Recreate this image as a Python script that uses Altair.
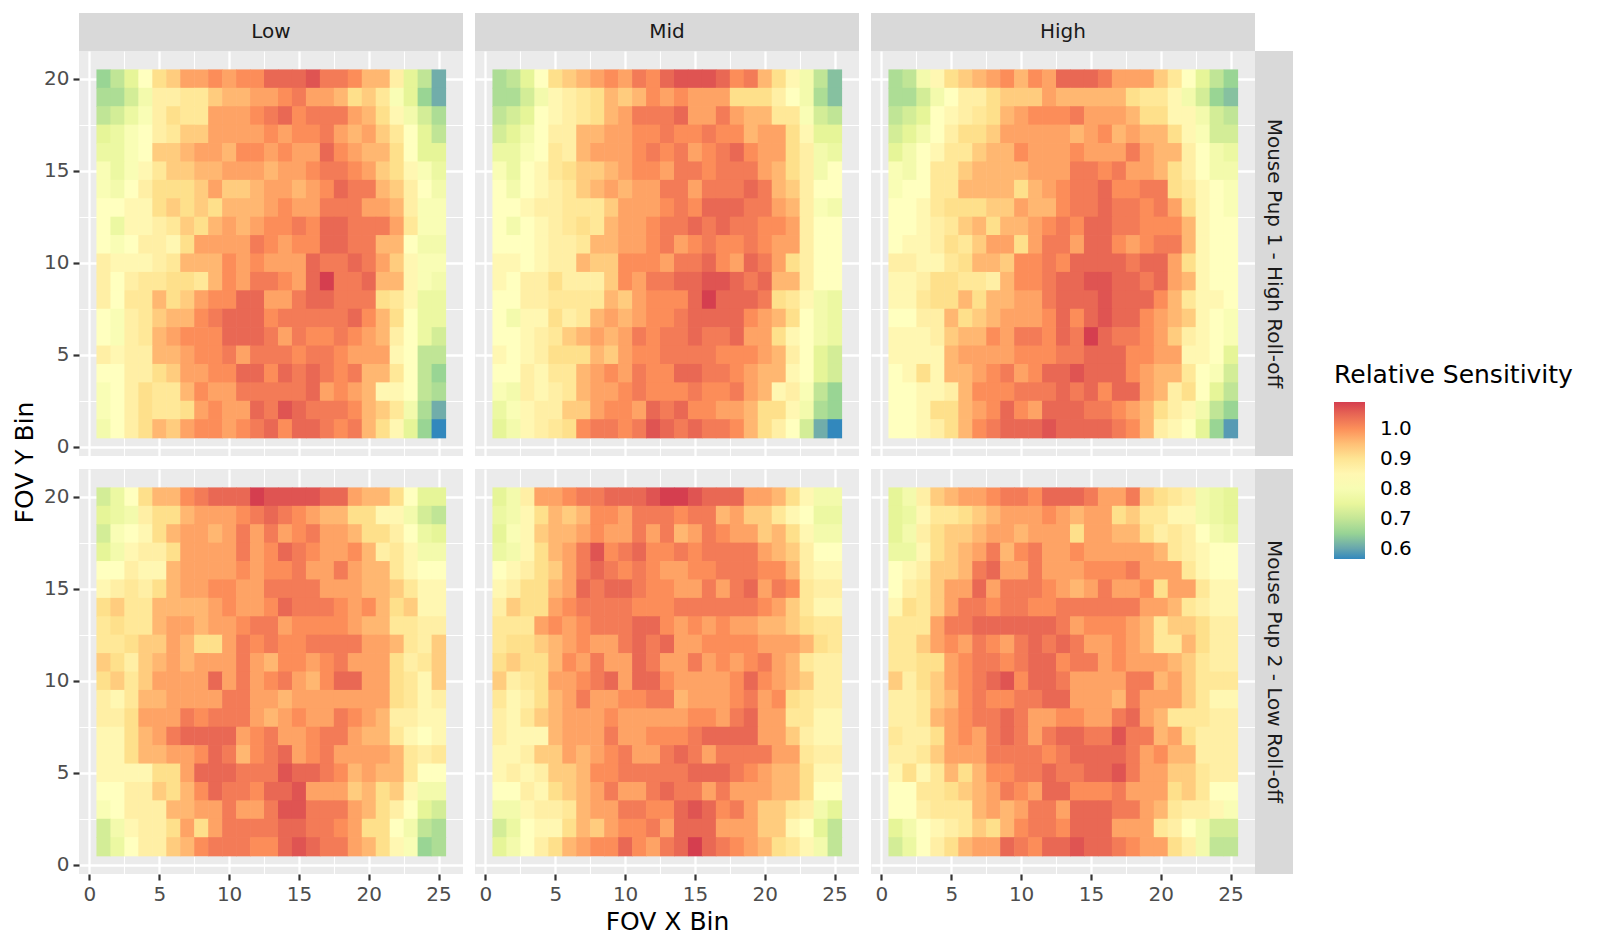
import altair as alt
import pandas as pd

# ---------------------------------------------------------------------------
# Data.  One character per bin:
#   'a'..'y'  ->  0.565 .. 1.090  (step 0.021875)
# Each list holds 20 rows, from FOV Y Bin 20 (top) down to 1 (bottom);
# each row holds FOV X Bin 1..25.
# ---------------------------------------------------------------------------
LEVEL_CHARS = "abcdefghijklmnopqrstuvwxy"
LEVEL_MIN = 0.565
LEVEL_STEP = 0.021875

setting_names = ["Low", "Mid", "High"]
pup_names = ["Mouse Pup 1 - High Roll-off", "Mouse Pup 2 - Low Roll-off"]

pup1_low = [
    "egimqrttut" "uuwwwxvvus" "soigc",
    "ffhkoopprs" "sttuvttsqr" "pliec",
    "ghjloqpptt" "tuvwuvvvts" "qnkhf",
    "ijlmoprrtt" "ttutuuvtst" "rpmig",
    "jjlmrrstts" "uututtwuts" "sqmii",
    "ljlnprrsst" "ttsttuvvut" "rqnlj",
    "lkmoqqqrtr" "rsttstuwvv" "sromk",
    "mmnnqrqrqs" "sstuttvvvt" "tsoll",
    "mjnnoprqst" "stuuvuwwvv" "vtpll",
    "mlmoonqttt" "tvutuuwwvv" "ssmkk",
    "onnnopsssu" "tutttwvvwv" "trnll",
    "omoppqqpsu" "tvvutwyvvw" "ssnlk",
    "omppsqrtuu" "wwttvwwvvv" "qpnjj",
    "mloprssuvw" "wwuvvvvvwu" "sqmjj",
    "mlopstuuuw" "wwvtvuuvut" "somjh",
    "onoosstuuv" "tvvvuvvutt" "tnmgg",
    "mmooqrttuu" "wwuwvwvuvs" "spmge",
    "lmoqppsutt" "vvvvvwtuts" "nnmgf",
    "lmoqppqtut" "twvxwvvvus" "rpkfc",
    "kmoqsrtuut" "uvwuwwvuvs" "qniea",
]

pup1_mid = [
    "fgimqrstut" "vuwxxxwuvs" "qnkgd",
    "ffhknopqsr" "sututttqqq" "omkfd",
    "ghimnopqst" "vvvwttvtss" "pplhg",
    "hikmoosstt" "uuvuuvuust" "tqnii",
    "jjlmpostt" "tuvuvtuvwut" "tqokj",
    "ljmnpqrrst" "uutvvuvvvt" "sqokm",
    "mkmnoprsts" "ttvvtvvvwv" "sromm",
    "mmnooppprt" "ttuvuwwwvv" "tsolk",
    "mkmnopqpst" "tuvvwvwvvu" "utomm",
    "mmmnoopsst" "tuvtuvuuvu" "ttomm",
    "nnmnoosrru" "uutvvwutwv" "tqomm",
    "nmooqoooru" "tvvwwxxwvw" "ssomm",
    "mmooppppsr" "tuuuwywwwv" "qpnkj",
    "mknnqopsts" "tuuvwwwwut" "sqmkj",
    "mmnoprstst" "vuvvwvvwtt" "qnmkj",
    "nmnoqqqsrt" "uuvvvvuuut" "somih",
    "mmonppstut" "vuuwwvvuts" "snmih",
    "lkonopsttu" "vuuuvuuvts" "nolge",
    "jlnoorrtuu" "twvwuuttsq" "qnkfe",
    "iknopquvvu" "vxwvwvvusq" "omhca",
]

pup1_high = [
    "fgknqrstus" "utwwwvtttr" "pmige",
    "ffhkmooqrr" "rtsssssqpp" "nkhed",
    "ghimnopqst" "uuuvtttsqq" "nnkhg",
    "hikmoqqrtt" "tttstustss" "qnlhh",
    "ikmnpprssu" "tttutttvts" "somkj",
    "lkmpprssss" "tttvvuvtts" "qomkk",
    "lmmppssssq" "stuvvwuuvv" "qpnml",
    "mmnpqqqrrt" "ssuvvwvvuv" "tqnml",
    "mmnoprsqss" "tuvuwwvvuu" "usnmm",
    "mnnoqprttq" "tvvtwwutuv" "vsnmm",
    "oonnpqssru" "uvuwwwwvww" "tqnmm",
    "nnoqqpposu" "uvwwxxwwvw" "tsnmm",
    "nnpqqsqsst" "tvwwwxwwwu" "spnnm",
    "mmoosqrstt" "tuwuwxwwut" "srnml",
    "nnnorssutv" "vuwvywvvut" "ronml",
    "nnnnsttttu" "uuvvwwwuut" "tnnmi",
    "mnqnsstuvt" "uwwxwwwuts" "spmlh",
    "mmnnosuuuv" "vvwvwuwwts" "oqmig",
    "mmnqqstuwu" "twwwvvutsq" "onkge",
    "mmnoqsuvww" "wxwwwwvuso" "nmieb",
]

pup2_low = [
    "hjmqssuvww" "wyxxxxwwts" "sqmii",
    "ijkoqqsttt" "uvwvutssqq" "nnkhg",
    "hlmnqsttst" "vtvtuvttsq" "qomji",
    "iknooqtttt" "vtuwvuttus" "opnkk",
    "mmonnstttt" "utuuvttvts" "spnmm",
    "nopoqsttuu" "ttvvvvttts" "srpnn",
    "qrppsssstu" "ttuwvvvutu" "sqrnn",
    "pqppsttstt" "uvvtuuuuts" "sppoo",
    "ppqrrtsqqt" "vuvuuvvvvt" "tspor",
    "rqorststtt" "vtsuutuvtt" "tqopr",
    "qrprttttwt" "vtuvtsuwwt" "tqpnr",
    "onpssttttv" "vttstttttt" "tqpno",
    "ooqtttvuvv" "vtstuttvut" "soonn",
    "nnqstvwwww" "tuvttuvvts" "spnmn",
    "nnqssttuwv" "suvwtuvttt" "tspop",
    "nnnnqqtwww" "vvvxwwvust" "sspmm",
    "mmoorqsuwv" "vuwwxtttrs" "qrnkk",
    "lmooossttv" "ttvxxvvvts" "qomih",
    "hknooqtqtv" "vvvwwvvutq" "qmkgf",
    "hjmoorsuvv" "vuuwxwvvts" "qnlef",
]

pup2_mid = [
    "ikottuvvww" "wxyyxwwwtt" "sqnkk",
    "jknqsrsuut" "vvvuvvstrr" "pnmjj",
    "ilnrsstutt" "vtvstvuttr" "sqnkk",
    "jknqstvxuv" "wuuvuvvvvt" "sromm",
    "mnoqrtvwvu" "vuttuuvvvu" "usonn",
    "noqqstwvww" "vuuttvtvwt" "vupoo",
    "orqqtuvvvv" "uuuvvvvvvu" "trpnn",
    "ppptutuvvv" "wwutututts" "srqpp",
    "pqqrstuttv" "wvwttuuuut" "ttsqp",
    "qrqqsutvtt" "wvttvtutuv" "tspoo",
    "ropqttuvwt" "wwuttttuwu" "tsroo",
    "pnoqstvttu" "uvvstttuvt" "uqpoo",
    "onprstttut" "ttttuutvwt" "tppnn",
    "onnnstttvt" "tuuuvwwwwt" "tronn",
    "nnorrtstuv" "ttvwvtvvvv" "ttpoo",
    "nonorrsuuv" "vvvvwwwvut" "ssqnn",
    "mmonqrstvt" "tvwvvtvttt" "ssqmm",
    "kknoopsttv" "vuuwxwuvtr" "rpoki",
    "hjmnnqsrtu" "uvtwwwtttr" "rnmig",
    "ikmoqstuuw" "utvwywvuts" "qpnkg",
]

pup2_high = [
    "ikorsttuvv" "uwwwvttvrq" "pokji",
    "ijnppqrstt" "tutsttqrpp" "nnkji",
    "ikoqrrstts" "tttqttssqo" "pomkj",
    "jjnqrstvsu" "vttuttttts" "ponmm",
    "mnorrsvwtt" "vtttuuuvtt" "tpnmm",
    "moprttwtvv" "vutstvttuq" "ttpnn",
    "nqprtvvuvv" "uuvvvvvvtt" "sponn",
    "ppptvvwwww" "wwvtuuutsp" "rrqoo",
    "pprtutvutv" "wvwvttutsp" "psqoo",
    "ppqqtuvvuv" "wwuvvtuttt" "srpoo",
    "roqrtuvwxu" "wwvttttvvs" "trppp",
    "ooprsuvuuv" "vwwtttsvtt" "trpnn",
    "oopstuvvwv" "ttuuttvwts" "pppoo",
    "pooqtutvwv" "tvwwvvxvvs" "tqooo",
    "ooprtttvvv" "vuvwwwwvtu" "ssooo",
    "nqnpsqsuuv" "vwvvwwxvtt" "rrpoo",
    "mmppqrstvu" "twwuuuvttt" "qrpmm",
    "mmopppstst" "vvtwwwvvts" "poonl",
    "ikmnoprqsu" "vvuwwwtttp" "omkhh",
    "hjmoqsttwv" "uwwxwwvutt" "qokgg",
]

panel_rows = {
    (pup_names[0], "Low"): pup1_low,
    (pup_names[0], "Mid"): pup1_mid,
    (pup_names[0], "High"): pup1_high,
    (pup_names[1], "Low"): pup2_low,
    (pup_names[1], "Mid"): pup2_mid,
    (pup_names[1], "High"): pup2_high,
}

x_ticks = [0, 2.5, 5, 7.5, 10, 12.5, 15, 17.5, 20, 22.5, 25]
y_ticks = [0, 2.5, 5, 7.5, 10, 12.5, 15, 17.5, 20]
legend_values = [0.6, 0.7, 0.8, 0.9, 1.0]
palette = ["#3288BD", "#99D594", "#E6F598", "#FFFFBF", "#FEE08B", "#FC8D59", "#D53E4F"]
color_lo, color_hi = 0.565, 1.09


def panel_frame(rows):
    recs = []
    for i, row in enumerate(rows[:20]):
        row = (row + row[-1] * 25)[:25]
        ybin = 20 - i
        for j, ch in enumerate(row):
            lvl = LEVEL_CHARS.index(ch) if ch in LEVEL_CHARS else 12
            recs.append({"x": j + 1, "y": ybin, "v": round(LEVEL_MIN + lvl * LEVEL_STEP, 5)})
    return pd.DataFrame(recs)


# ---------------------------------------------------------------------------
# Layout
# ---------------------------------------------------------------------------
W, H = 384, 405
STRIP = 38
GAP_X, GAP_Y = 12, 13
FONT = "DejaVu Sans"
SMALL, BIG = 20, 25
SEAM = 0.04  # tiny overlap so adjoining tiles leave no hairline gaps

x_scale = alt.Scale(domain=[-0.75, 26.75], nice=False, zero=False)
y_scale = alt.Scale(domain=[-0.5, 21.5], nice=False, zero=False)
stops = [color_lo + (color_hi - color_lo) * k / 6 for k in range(7)]
color_scale = alt.Scale(type="linear", domain=stops, range=palette, interpolate="lab")

minor_test = "datum.value % 5 !== 0"
grid_width = {"condition": {"test": minor_test, "value": 1.1}, "value": 2.3}
tick_opacity = {"condition": {"test": minor_test, "value": 0}, "value": 1}
label_expr = "datum.value % 5 === 0 ? format(datum.value, 'd') : ''"

legend = alt.Legend(
    type="gradient", orient="none", legendX=1255, legendY=312,
    values=legend_values, format=".1f", direction="vertical",
    gradientLength=157, gradientThickness=31, gradientStrokeWidth=0,
    titleFont=FONT, titleFontSize=BIG, titleFontWeight="normal", titleColor="black",
    titleLimit=400, titlePadding=14,
    labelFont=FONT, labelFontSize=SMALL, labelColor="black", labelOffset=15,
)


def make_axis(show, ticks, title=None):
    common = dict(values=ticks, grid=True, gridColor="white", gridWidth=grid_width,
                  domain=False, title=title)
    if show:
        return alt.Axis(labels=True, ticks=True, labelExpr=label_expr,
                        tickOpacity=tick_opacity, tickSize=6, tickWidth=2.2,
                        tickColor="#333333", labelColor="#4D4D4D", labelFont=FONT,
                        labelFontSize=SMALL, labelPadding=4, **common)
    return alt.Axis(labels=False, ticks=False, **common)


def panel(pup, setting, ri, ci):
    data = panel_frame(panel_rows[(pup, setting)])
    x_title = "FOV X Bin" if (ri == 1 and ci == 1) else None
    heat = alt.Chart(data).transform_calculate(
        x0="datum.x - 0.5", x1=f"datum.x + 0.5 + {SEAM}",
        y0=f"datum.y - 0.5 - {SEAM}", y1="datum.y + 0.5",
    ).mark_rect().encode(
        x=alt.X("x0:Q", scale=x_scale, axis=make_axis(ri == 1, x_ticks, x_title)),
        x2="x1:Q",
        y=alt.Y("y0:Q", scale=y_scale, axis=make_axis(ci == 0, y_ticks)),
        y2="y1:Q",
        color=alt.Color("v:Q", scale=color_scale, title="Relative Sensitivity", legend=legend),
    )
    layers = [heat]
    if ri == 0:
        lab = pd.DataFrame({"label": [setting]})
        layers.append(alt.Chart(lab).mark_rect(color="#D9D9D9").encode(
            x=alt.value(0), x2=alt.value(W), y=alt.value(-STRIP), y2=alt.value(0)))
        layers.append(alt.Chart(lab).mark_text(font=FONT, fontSize=SMALL, color="#1A1A1A").encode(
            x=alt.value(W / 2), y=alt.value(-STRIP / 2), text="label:N"))
    if ci == 2:
        rlab = pd.DataFrame({"label": [pup]})
        layers.append(alt.Chart(rlab).mark_rect(color="#D9D9D9").encode(
            x=alt.value(W), x2=alt.value(W + STRIP), y=alt.value(0), y2=alt.value(H)))
        layers.append(alt.Chart(rlab).mark_text(font=FONT, fontSize=SMALL, color="#1A1A1A", angle=90).encode(
            x=alt.value(W + STRIP / 2), y=alt.value(H / 2), text="label:N"))
    if ri == 0 and ci == 0:
        ylab = pd.DataFrame({"label": ["FOV Y Bin"]})
        layers.append(alt.Chart(ylab).mark_text(font=FONT, fontSize=BIG, color="black", angle=270).encode(
            x=alt.value(-54), y=alt.value(H + GAP_Y / 2), text="label:N"))
    return alt.layer(*layers).properties(width=W, height=H)


panels = []
for ri, pup in enumerate(pup_names):
    for ci, setting in enumerate(setting_names):
        panels.append(panel(pup, setting, ri, ci))

chart = alt.concat(
    *panels, columns=3, spacing={"row": GAP_Y, "column": GAP_X}, bounds="flush"
).properties(
    padding={"left": 5, "top": 5, "right": 5, "bottom": 5}
).configure(
    font=FONT
).configure_view(
    fill="#EBEBEB", stroke=None
).configure_axis(
    titleFont=FONT, titleFontSize=BIG, titleFontWeight="normal", titleColor="black",
    titlePadding=5,
)

chart.save("out.html", embed_options={"renderer": "svg", "actions": False})
